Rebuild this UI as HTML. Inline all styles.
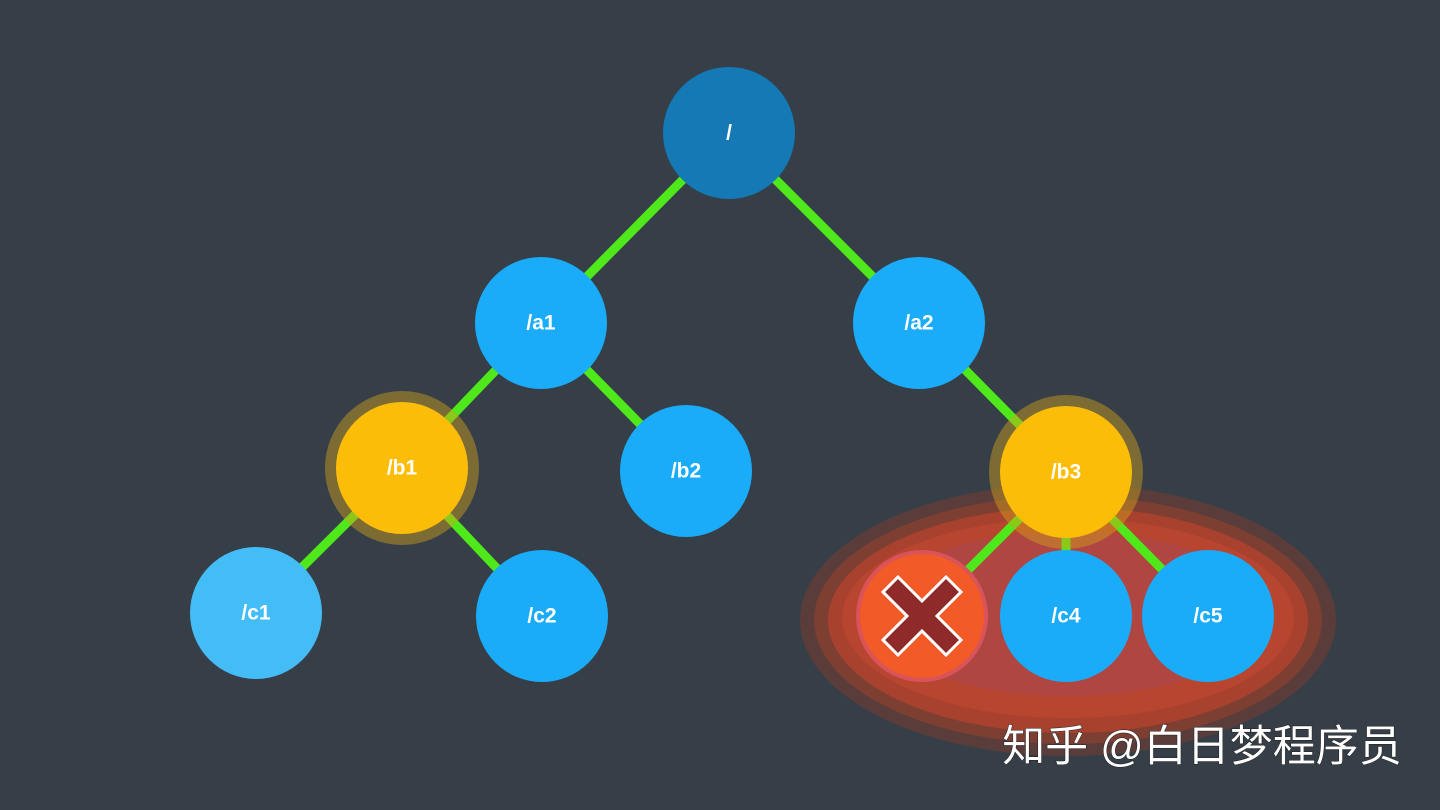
<!DOCTYPE html>
<html><head><meta charset="utf-8"><style>
html,body{margin:0;padding:0;background:#363e48;}
svg{display:block}
text{font-family:"Liberation Sans",sans-serif;font-weight:bold;fill:#fff;font-size:21px;text-anchor:middle;dominant-baseline:central}
</style></head><body>
<svg width="1440" height="810" viewBox="0 0 1440 810">
<rect width="1440" height="810" fill="#363e48"/>
<g>
<ellipse cx="1068" cy="620" rx="268" ry="136" fill="#5a3d3a"/>
<ellipse cx="1068" cy="620" rx="254" ry="124" fill="#7e3f33"/>
<ellipse cx="1068" cy="620" rx="240" ry="113" fill="#a8422e"/>
<ellipse cx="1068" cy="618" rx="226" ry="100" fill="#b8452f"/>
<ellipse cx="1068" cy="614" rx="200" ry="82" fill="#b04642"/>
</g>
<g stroke="#4fe81a" stroke-width="9">
<line x1="729" y1="133" x2="541" y2="323"/>
<line x1="729" y1="133" x2="919" y2="323"/>
<line x1="541" y1="323" x2="402" y2="468"/>
<line x1="541" y1="323" x2="686" y2="471"/>
<line x1="919" y1="323" x2="1066" y2="472"/>
<line x1="402" y1="468" x2="256" y2="613"/>
<line x1="402" y1="468" x2="542" y2="616"/>
<line x1="1066" y1="472" x2="922" y2="616"/>
<line x1="1066" y1="472" x2="1066" y2="616"/>
<line x1="1066" y1="472" x2="1208" y2="616"/>
</g>
<circle cx="402" cy="468" r="77" fill="#d2a11a" fill-opacity="0.45"/>
<circle cx="1066" cy="472" r="77" fill="#d2a11a" fill-opacity="0.45"/>
<circle cx="729" cy="133" r="66" fill="#1479b4"/>
<circle cx="541" cy="323" r="66" fill="#1aabf9"/>
<circle cx="919" cy="323" r="66" fill="#1aabf9"/>
<circle cx="402" cy="468" r="66" fill="#fbbd08"/>
<circle cx="686" cy="471" r="66" fill="#1aabf9"/>
<circle cx="1066" cy="472" r="66" fill="#fbbd08"/>
<circle cx="256" cy="613" r="66" fill="#44bdf7"/>
<circle cx="542" cy="616" r="66" fill="#1aabf9"/>
<circle cx="922" cy="616" r="64" fill="#f25a27" stroke="#d9535a" stroke-width="4"/>
<circle cx="1066" cy="616" r="66" fill="#1aabf9"/>
<circle cx="1208" cy="616" r="66" fill="#1aabf9"/>
<path d="M922 601 L946 577 L961 592 L937 616 L961 640 L946 655 L922 631 L898 655 L883 640 L907 616 L883 592 L898 577 Z" fill="#8e2a2a" stroke="#fff" stroke-width="3" stroke-linejoin="miter"/>
<text x="729" y="133">/</text>
<text x="541" y="323">/a1</text>
<text x="919" y="323">/a2</text>
<text x="402" y="468">/b1</text>
<text x="686" y="471">/b2</text>
<text x="1066" y="472">/b3</text>
<text x="256" y="613">/c1</text>
<text x="542" y="616">/c2</text>
<text x="1066" y="616">/c4</text>
<text x="1208" y="616">/c5</text>
<text x="1202" y="747" style="font-family:'Liberation Sans','Noto Sans CJK SC',sans-serif;font-weight:normal;font-size:43px;fill:#fff;stroke:#222;stroke-width:1;paint-order:stroke">知乎 @白日梦程序员</text>
</svg>
</body></html>
